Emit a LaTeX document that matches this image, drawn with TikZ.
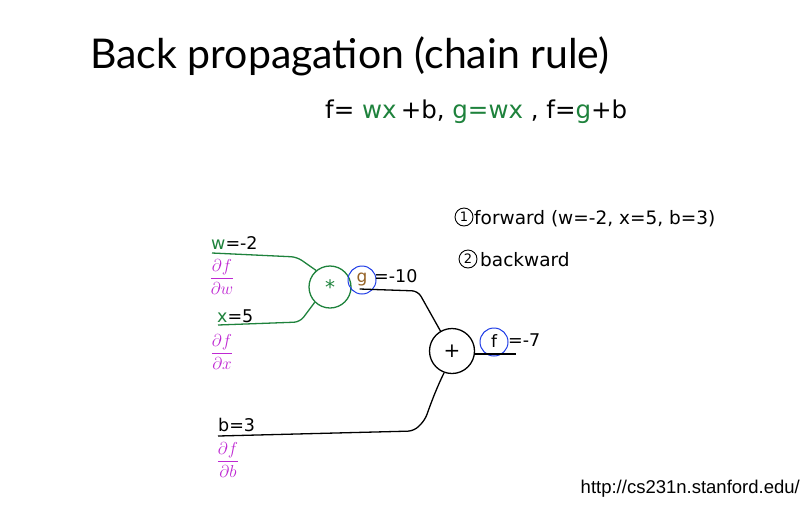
\documentclass[tikz,border=0pt]{standalone}
\usepackage{fontspec}
\setmainfont{Liberation Sans}
\newfontfamily\titlefont{Lato}
\newfontfamily\handfont{DejaVu Sans}
\usetikzlibrary{arrows.meta}
\definecolor{hgreen}{RGB}{30,130,60}
\definecolor{hpurple}{RGB}{190,40,210}
\definecolor{hblue}{RGB}{30,60,230}
\definecolor{hbrown}{RGB}{150,100,40}
\tikzset{
  hand/.style={font=\handfont\fontsize{17.5}{19}\selectfont, inner sep=0pt},
  stephand/.style={font=\handfont\fontsize{18.5}{20}\selectfont, inner sep=0pt},
  numcircle/.style={circle, draw, line width=0.9pt, minimum size=18pt, inner sep=0pt, font=\handfont\fontsize{13}{13}\selectfont},
  gate/.style={circle, draw, line width=1.3pt, minimum size=40pt, inner sep=0pt, font=\handfont\fontsize{20}{20}\selectfont},
  valcircle/.style={circle, draw=hblue, line width=1pt, minimum size=28pt, inner sep=0pt},
  wire/.style={line width=1.3pt, rounded corners=6pt},
  grad/.style={font=\fontsize{19}{20}\selectfont, text=hpurple, inner sep=0pt}
}
\begin{document}
\begin{tikzpicture}[x=1pt,y=-1pt]
\useasboundingbox (0,0) rectangle (808,504);
% title
\node[anchor=base west, inner sep=0pt, font=\titlefont\fontsize{41}{44}\selectfont] (title) at (90,68) {Back propagation (chain rule)};
% equation
\node[hand, anchor=base west, font=\handfont\fontsize{24.5}{26}\selectfont] (eq) at (325,118)
  {f= \textcolor{hgreen}{wx}\,+b, \textcolor{hgreen}{g=wx} , f=\textcolor{hgreen}{g}+b};
% steps
\node[numcircle] (n1) at (464,217) {1};
\node[stephand, anchor=base west] (s1) at (474,224) {forward (w=-2, x=5, b=3)};
\node[numcircle] (n2) at (468,259) {2};
\node[stephand, anchor=base west] (s2) at (480,266) {backward};
% gates
\node[gate, draw=hgreen, text=hgreen, minimum width=42pt, minimum height=38pt] (mul) at (330,287) {*};
\node[gate, minimum width=45pt, minimum height=40pt] (add) at (452,351) {+};
% value circles
\node[valcircle] (gc) at (362,280) {};
\node[font=\handfont\fontsize{17}{17}\selectfont, text=hbrown, inner sep=0pt] (g) at (362,279) {g};
\node[hand, anchor=west] (gval) at (374,276) {=-10};
\node[valcircle] (fc) at (494,342) {};
\node[font=\handfont\fontsize{17}{17}\selectfont, inner sep=0pt] (f) at (494,341) {f};
\node[hand, anchor=west] (fval) at (508,340) {=-7};
% input labels
\node[hand, anchor=base west] (w) at (211,249) {\textcolor{hgreen}{w}=-2};
\node[hand, anchor=base west] (x) at (217,322) {\textcolor{hgreen}{x}=5};
\node[hand, anchor=base west] (b) at (218,431) {b=3};
\coordinate (wstart) at (212,253);
\coordinate (xstart) at (218,325);
\coordinate (bstart) at (218,436);
\coordinate (fout) at (516,354);
% gradients
\node[grad] (dw) at (222,277) {$\displaystyle\frac{\partial f}{\partial w}$};
\node[grad] (dx) at (222,352) {$\displaystyle\frac{\partial f}{\partial x}$};
\node[grad] (db) at (228,460) {$\displaystyle\frac{\partial f}{\partial b}$};
% wires
\draw[wire, hgreen] (wstart) -- (297,257) -- (mul.130);
\draw[wire, hgreen] (xstart) -- (300,322) -- (mul.225);
\draw[wire] (mul.east) ++(8,2) -- (418,291) -- (add.120);
\draw[wire] (bstart) -- (414,431) -- (425,420) .. controls (432,400) and (438,385) .. (add.250);
\draw[line width=1.3pt] (add.east) ++(0,3) -- (fout);
% url
\node[anchor=base east, inner sep=0pt, font=\fontsize{18.5}{20}\selectfont] (url) at (800,493) {http://cs231n.stanford.edu/};
\end{tikzpicture}
\end{document}
